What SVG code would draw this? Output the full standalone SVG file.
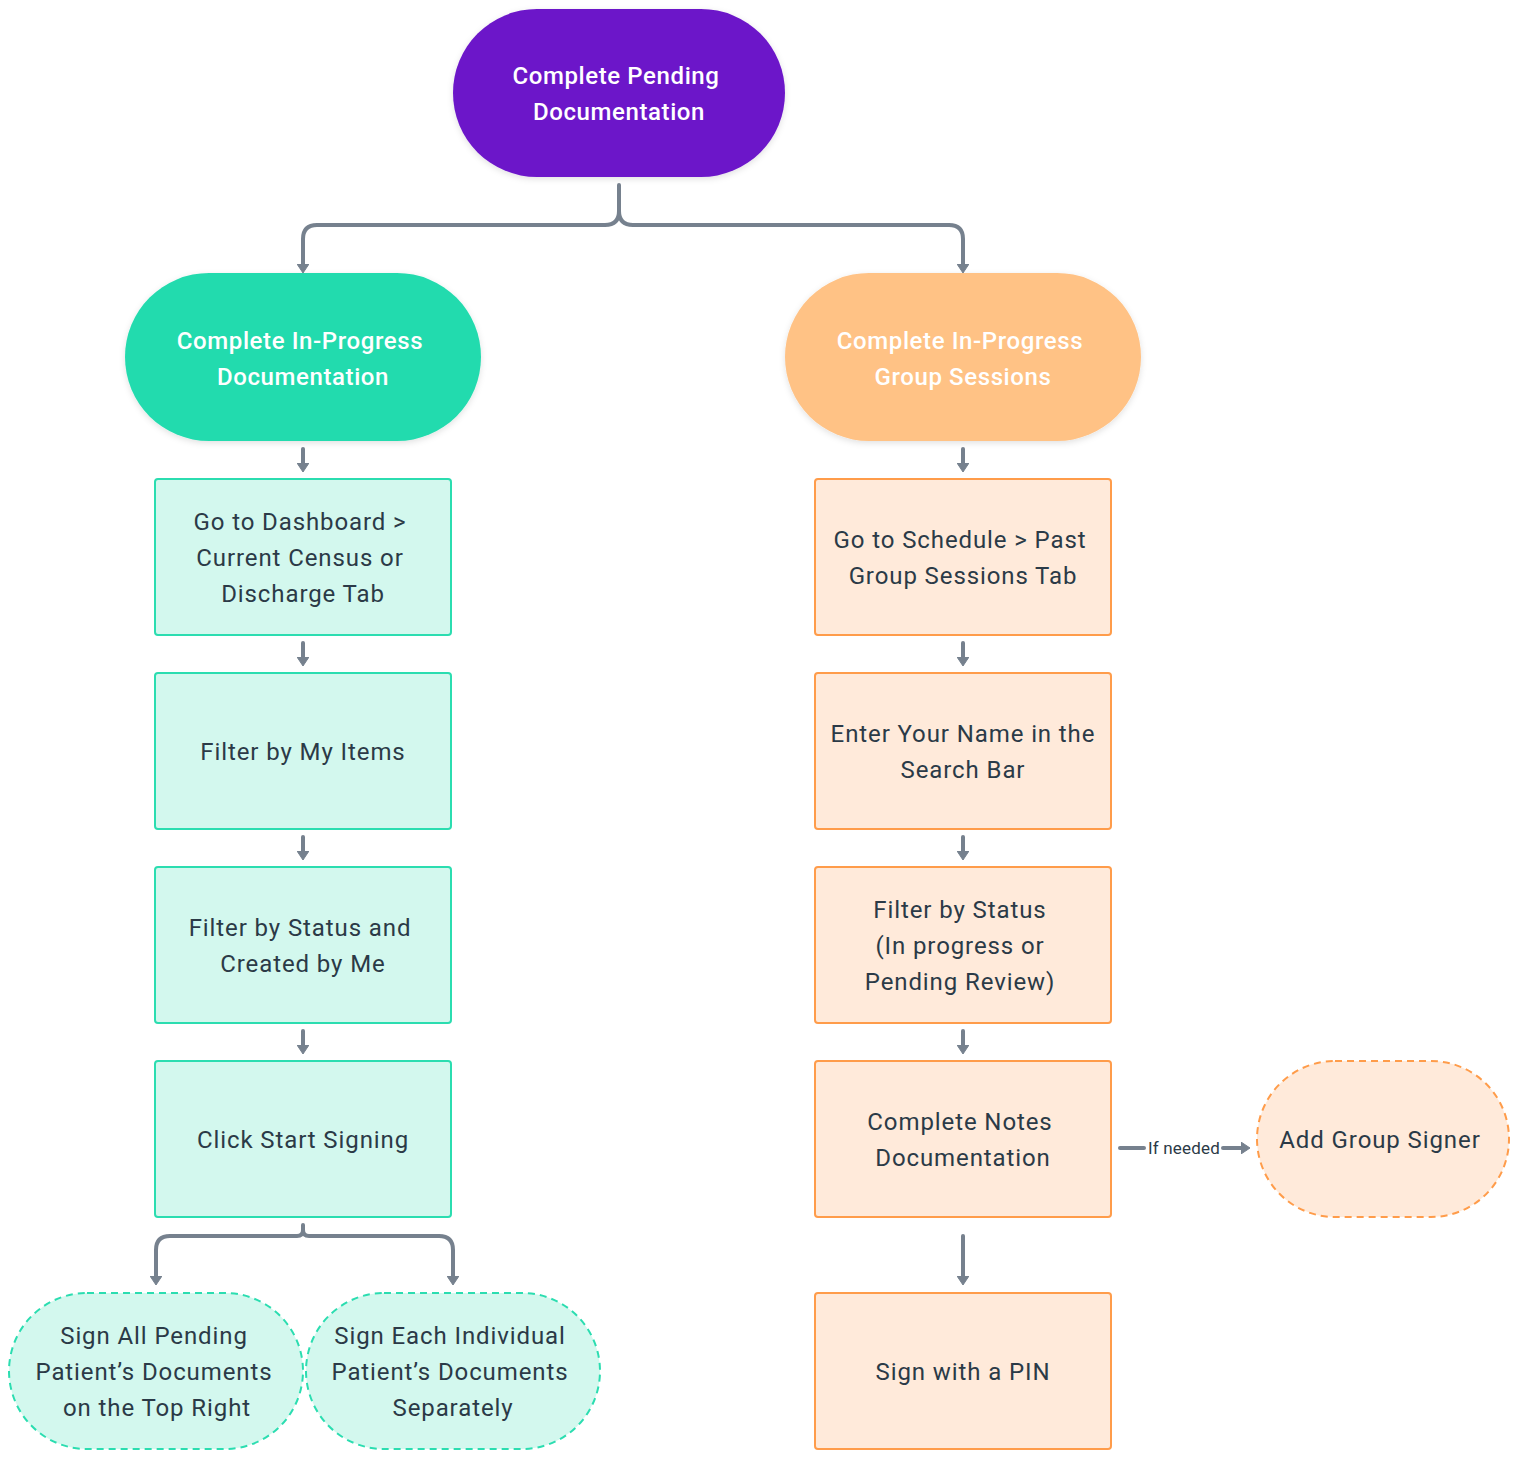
<svg xmlns="http://www.w3.org/2000/svg" width="1518" height="1458" viewBox="0 0 1518 1458">
<defs>
<filter id="sh" x="-10%" y="-10%" width="120%" height="130%">
<feDropShadow dx="0" dy="2" stdDeviation="3" flood-color="#000" flood-opacity="0.12"/>
</filter>
<marker id="ah" viewBox="0 0 9 12" refX="0" refY="6" markerWidth="9" markerHeight="12" markerUnits="userSpaceOnUse" orient="auto">
<path d="M0,0 L9,6 L0,12 Z" fill="#76818E" stroke="#76818E" stroke-width="1" stroke-linejoin="round"/>
</marker>
</defs>
<style>
text{font-family:Roboto,"Noto Sans",sans-serif;font-size:24px;text-anchor:middle;fill:#2B3A47;letter-spacing:0.9px}
.w{fill:#fff;font-weight:500;letter-spacing:0.6px}
.c{fill:none;stroke:#76818E;stroke-width:4;stroke-linecap:round;stroke-linejoin:round}
.g{fill:#D3F8EE;stroke:#2BDDB0;stroke-width:2}
.o{fill:#FFEADA;stroke:#FF9C4A;stroke-width:2}
.gd{fill:#D3F8EE;stroke:#2BDDB0;stroke-width:2;stroke-dasharray:7 5}
.od{fill:#FFEADA;stroke:#FF9C4A;stroke-width:2;stroke-dasharray:7 5}
.lbl{font-size:17px;letter-spacing:0.2px}
</style>
<g id="connectors">
<path class="c" d="M619,185 V211 Q619,225 605,225 H317 Q303,225 303,239 V264" marker-end="url(#ah)"/>
<path class="c" d="M619,211 Q619,225 633,225 H949 Q963,225 963,239 V264" marker-end="url(#ah)"/>
<path class="c" d="M303,449 V463" marker-end="url(#ah)"/>
<path class="c" d="M303,643 V657" marker-end="url(#ah)"/>
<path class="c" d="M303,837 V851" marker-end="url(#ah)"/>
<path class="c" d="M303,1031 V1045" marker-end="url(#ah)"/>
<path class="c" d="M963,449 V463" marker-end="url(#ah)"/>
<path class="c" d="M963,643 V657" marker-end="url(#ah)"/>
<path class="c" d="M963,837 V851" marker-end="url(#ah)"/>
<path class="c" d="M963,1031 V1045" marker-end="url(#ah)"/>
<path class="c" d="M303,1225 V1230 Q303,1236 297,1236 H170 Q156,1236 156,1250 V1276" marker-end="url(#ah)"/>
<path class="c" d="M303,1230 Q303,1236 309,1236 H439 Q453,1236 453,1250 V1276" marker-end="url(#ah)"/>
<path class="c" d="M963,1236 V1276" marker-end="url(#ah)"/>
<path class="c" d="M1120,1148 H1144"/>
<path class="c" d="M1223,1148 H1241" marker-end="url(#ah)"/>
<text class="lbl" x="1184" y="1154">If needed</text>
</g>
<g id="n-root">
<rect x="453" y="9" width="332" height="168" rx="84" fill="#6C17C9" filter="url(#sh)"/>
<text class="w" x="616" y="84">Complete Pending</text>
<text class="w" x="619" y="120">Documentation</text>
</g>
<g id="n-inprogress-doc">
<rect x="125" y="273" width="356" height="168" rx="84" fill="#24DBAE" filter="url(#sh)"/>
<text class="w" x="300" y="349">Complete In-Progress</text>
<text class="w" x="303" y="385">Documentation</text>
</g>
<g id="n-inprogress-group">
<rect x="785" y="273" width="356" height="168" rx="84" fill="#FFC285" filter="url(#sh)"/>
<text class="w" x="960" y="349">Complete In-Progress</text>
<text class="w" x="963" y="385">Group Sessions</text>
</g>
<g id="n-dashboard">
<rect class="g" x="155" y="479" width="296" height="156" rx="3"/>
<text x="300" y="530">Go to Dashboard &gt;</text>
<text x="300" y="566">Current Census or</text>
<text x="303" y="602">Discharge Tab</text>
</g>
<g id="n-filter-items">
<rect class="g" x="155" y="673" width="296" height="156" rx="3"/>
<text x="303" y="760">Filter by My Items</text>
</g>
<g id="n-filter-status">
<rect class="g" x="155" y="867" width="296" height="156" rx="3"/>
<text x="300" y="936">Filter by Status and</text>
<text x="303" y="972">Created by Me</text>
</g>
<g id="n-start-signing">
<rect class="g" x="155" y="1061" width="296" height="156" rx="3"/>
<text x="303" y="1148">Click Start Signing</text>
</g>
<g id="n-sign-all">
<rect class="gd" x="9" y="1293" width="294" height="156" rx="78"/>
<text x="154" y="1344">Sign All Pending</text>
<text x="154" y="1380">Patient’s Documents</text>
<text x="157" y="1416">on the Top Right</text>
</g>
<g id="n-sign-each">
<rect class="gd" x="306" y="1293" width="294" height="156" rx="78"/>
<text x="450" y="1344">Sign Each Individual</text>
<text x="450" y="1380">Patient’s Documents</text>
<text x="453" y="1416">Separately</text>
</g>
<g id="n-schedule">
<rect class="o" x="815" y="479" width="296" height="156" rx="3"/>
<text x="960" y="548">Go to Schedule &gt; Past</text>
<text x="963" y="584">Group Sessions Tab</text>
</g>
<g id="n-name">
<rect class="o" x="815" y="673" width="296" height="156" rx="3"/>
<text x="963" y="742">Enter Your Name in the</text>
<text x="963" y="778">Search Bar</text>
</g>
<g id="n-filter-status-g">
<rect class="o" x="815" y="867" width="296" height="156" rx="3"/>
<text x="960" y="918">Filter by Status</text>
<text x="960" y="954">(In progress or</text>
<text x="960" y="990">Pending Review)</text>
</g>
<g id="n-notes">
<rect class="o" x="815" y="1061" width="296" height="156" rx="3"/>
<text x="960" y="1130">Complete Notes</text>
<text x="963" y="1166">Documentation</text>
</g>
<g id="n-pin">
<rect class="o" x="815" y="1293" width="296" height="156" rx="3"/>
<text x="963" y="1380">Sign with a PIN</text>
</g>
<g id="n-group-signer">
<rect class="od" x="1257" y="1061" width="252" height="156" rx="78"/>
<text x="1380" y="1148">Add Group Signer</text>
</g>
</svg>
